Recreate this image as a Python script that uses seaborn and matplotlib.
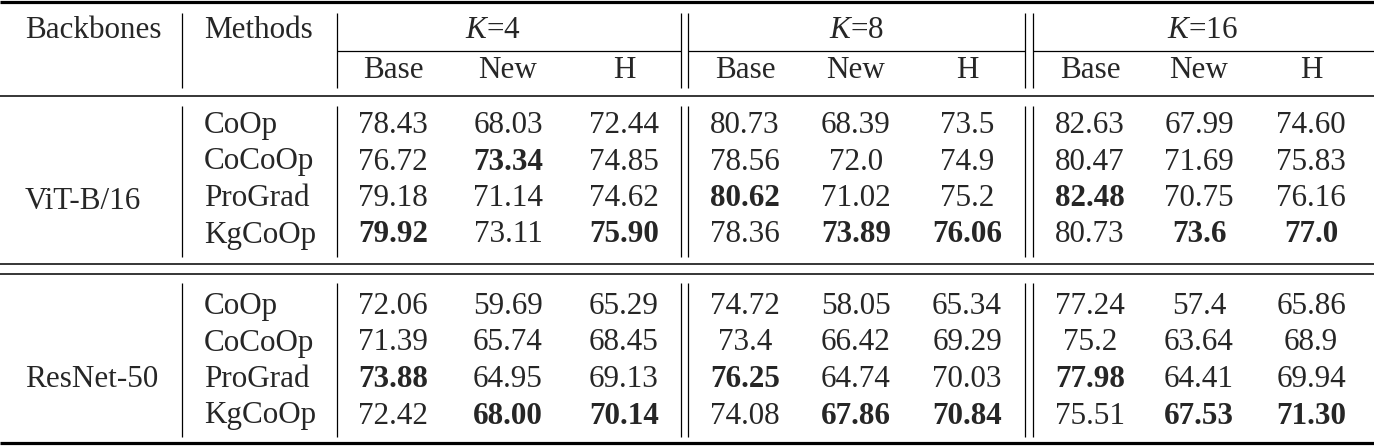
import matplotlib
matplotlib.use("Agg")
import matplotlib.pyplot as plt
import seaborn as sns

# ---------------- data ----------------
backbones = ["ViT-B/16", "ResNet-50"]
methods = ["CoOp", "CoCoOp", "ProGrad", "KgCoOp"]
shots = ["4", "8", "16"]
metrics = ["Base", "New", "H"]

vit_k4_base = ["78.43", "76.72", "79.18", "79.92"]
vit_k4_new = ["68.03", "73.34", "71.14", "73.11"]
vit_k4_h = ["72.44", "74.85", "74.62", "75.90"]
vit_k8_base = ["80.73", "78.56", "80.62", "78.36"]
vit_k8_new = ["68.39", "72.0", "71.02", "73.89"]
vit_k8_h = ["73.5", "74.9", "75.2", "76.06"]
vit_k16_base = ["82.63", "80.47", "82.48", "80.73"]
vit_k16_new = ["67.99", "71.69", "70.75", "73.6"]
vit_k16_h = ["74.60", "75.83", "76.16", "77.0"]

rn_k4_base = ["72.06", "71.39", "73.88", "72.42"]
rn_k4_new = ["59.69", "65.74", "64.95", "68.00"]
rn_k4_h = ["65.29", "68.45", "69.13", "70.14"]
rn_k8_base = ["74.72", "73.4", "76.25", "74.08"]
rn_k8_new = ["58.05", "66.42", "64.74", "67.86"]
rn_k8_h = ["65.34", "69.29", "70.03", "70.84"]
rn_k16_base = ["77.24", "75.2", "77.98", "75.51"]
rn_k16_new = ["57.4", "63.64", "64.41", "67.53"]
rn_k16_h = ["65.86", "68.9", "69.94", "71.30"]

# index (into methods) of the bold entry of each column
vit_bold = [3, 1, 3, 2, 3, 3, 2, 3, 3]
rn_bold = [2, 3, 3, 2, 3, 3, 2, 3, 3]

vit_cols = [vit_k4_base, vit_k4_new, vit_k4_h,
            vit_k8_base, vit_k8_new, vit_k8_h,
            vit_k16_base, vit_k16_new, vit_k16_h]
rn_cols = [rn_k4_base, rn_k4_new, rn_k4_h,
           rn_k8_base, rn_k8_new, rn_k8_h,
           rn_k16_base, rn_k16_new, rn_k16_h]
groups = [(vit_cols, vit_bold), (rn_cols, rn_bold)]

# ---------------- style ----------------
sns.set_theme(style="white")
plt.rcParams["font.family"] = ["Liberation Serif", "DejaVu Serif"]
plt.rcParams["mathtext.fontset"] = "custom"
plt.rcParams["mathtext.rm"] = "Liberation Serif"
plt.rcParams["mathtext.it"] = "Liberation Serif:italic"
plt.rcParams["mathtext.bf"] = "Liberation Serif:bold"

W, H = 1374, 447
fig = plt.figure(figsize=(W / 100, H / 100), dpi=100)
ax = fig.add_axes([0, 0, 1, 1])
ax.set_xlim(0, W)
ax.set_ylim(H, 0)
ax.axis("off")

FS = 22.4
col_x = [393, 508, 624, 745, 856, 967, 1090, 1199, 1311]
k_x = [493, 857, 1202]
backbone_x = 25
method_x = 204
hdr1_base = 38
hdr2_base = 78
row_base = [[133, 169.5, 206, 242.5], [314, 350.5, 387, 423.5]]
label_base = [209, 387]

# ---------------- header ----------------
ax.text(backbone_x, hdr1_base, "Backbones", ha="left", va="baseline", fontsize=FS)
ax.text(method_x, hdr1_base, "Methods", ha="left", va="baseline", fontsize=FS)
for kx, k in zip(k_x, shots):
    ax.text(kx, hdr1_base, "$K$=" + k, ha="center", va="baseline", fontsize=FS)
for j, cx in enumerate(col_x):
    ax.text(cx, hdr2_base, metrics[j % 3], ha="center", va="baseline", fontsize=FS)

# ---------------- body ----------------
for g, (cols, bold) in enumerate(groups):
    ax.text(backbone_x, label_base[g], backbones[g], ha="left", va="baseline", fontsize=FS)
    for i, m in enumerate(methods):
        ax.text(method_x, row_base[g][i], m, ha="left", va="baseline", fontsize=FS)
    for j, (cx, col) in enumerate(zip(col_x, cols)):
        for i, v in enumerate(col):
            ax.text(cx, row_base[g][i], v, ha="center", va="baseline", fontsize=FS,
                    fontweight="bold" if bold[j] == i else "normal")

# ---------------- rules ----------------
ink = "black"
ax.hlines(1.5, 0, W, color=ink, lw=2.3)
ax.hlines(442.5, 0, W, color=ink, lw=2.3)
ax.hlines(95.5, 0, W, color=ink, lw=1.1)
ax.hlines([264, 273.5], 0, W, color=ink, lw=1.1)
ax.hlines(51, 337, 681, color=ink, lw=0.9)
ax.hlines(51, 688, 1025, color=ink, lw=0.9)
ax.hlines(51, 1033, W, color=ink, lw=0.9)

segments = [(13, 88), (106, 257), (283, 437)]
single_x = [182, 337]
double_x = [681, 688, 1025, 1033]
for y0, y1 in segments:
    ax.vlines(single_x + double_x, y0, y1, color=ink, lw=0.9)

fig.savefig("out.png", dpi=100, facecolor="white")
